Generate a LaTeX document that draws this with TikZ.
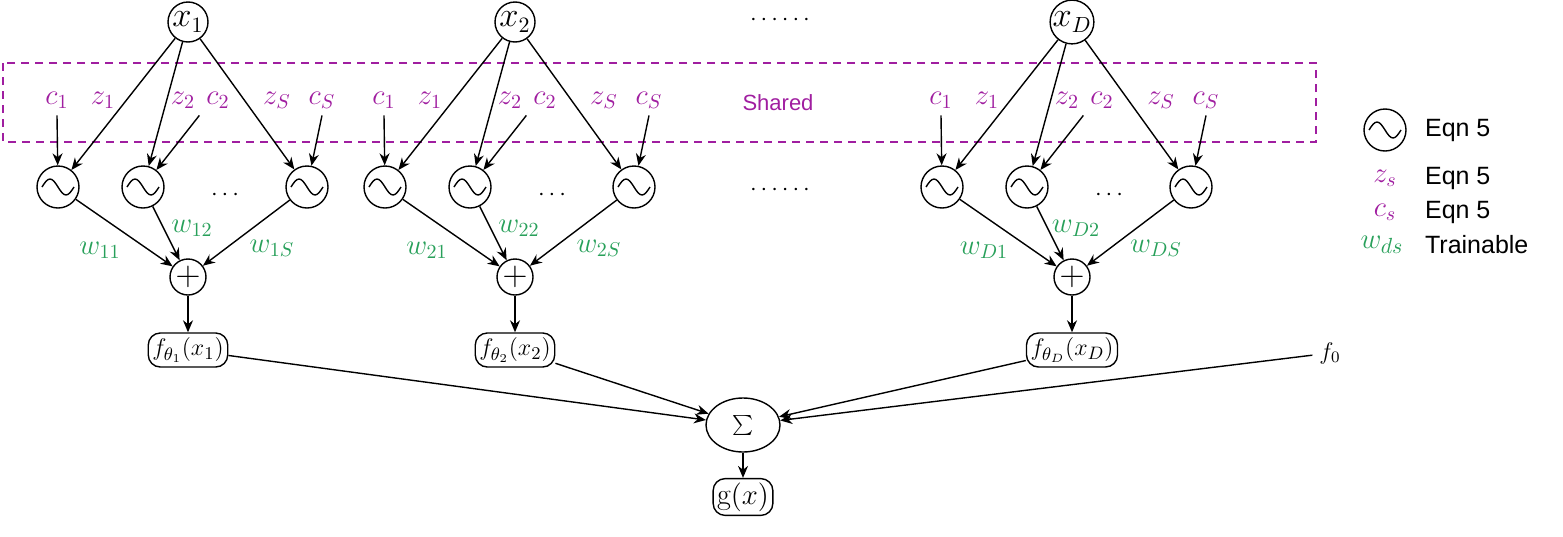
\documentclass[tikz,border=0pt]{standalone}
\usepackage{fontspec}
\newfontfamily\lsans{Liberation Sans}
\usetikzlibrary{arrows.meta,shapes.geometric}
\definecolor{mag}{RGB}{160,30,160}
\definecolor{grn}{RGB}{40,160,90}
\begin{document}
\begin{tikzpicture}[x=0.5pt,y=-0.5pt,
  every node/.style={font=\fontsize{12}{14}\selectfont},
  cnode/.style={circle,draw,line width=0.7pt,inner sep=0pt,minimum size=20pt},
  sine/.style={circle,draw,line width=0.7pt,inner sep=0pt,minimum size=21pt,
    path picture={\draw[line width=0.7pt] ([xshift=-8pt]path picture bounding box.center) sin ++(4pt,4pt) cos ++(4pt,-4pt) sin ++(4pt,-4pt) cos ++(4pt,4pt);}},
  plus/.style={circle,draw,line width=0.7pt,inner sep=0pt,minimum size=18pt,font=\fontsize{16}{16}\selectfont},
  fbox/.style={rounded corners=6pt,draw,line width=0.7pt,inner sep=2pt,minimum height=17pt,font=\fontsize{13}{15}\selectfont},
  arr/.style={-{Stealth[length=6pt,width=5pt]},line width=0.7pt},
  mlab/.style={text=mag,font=\fontsize{14}{15}\selectfont},
  wlab/.style={text=grn,font=\fontsize{14}{15}\selectfont}]
\useasboundingbox (0,0) rectangle (1563,536);
\draw[mag,line width=1.3pt,dash pattern=on 4pt off 3pt] (3,63) rectangle (1316,142);
\node[mag,font=\lsans\fontsize{11}{13}\selectfont] (shared) at (778,103) {Shared};
\node (dtop) at (780,20) {\large $\cdots\cdots$};
\node (dmid) at (780,190) {\large $\cdots\cdots$};
\foreach \o/\i/\d/\fl in {0/1/1/{f_{\theta_1}(x_1)},327/2/2/{f_{\theta_2}(x_2)},884/D/D/{f_{\theta_D}(x_D)}}{
  \begin{scope}[xshift=\o*0.5pt]
  \node[cnode,font=\fontsize{16}{16}\selectfont] (x\i) at (188,22) {$x_{\i}$};
  \node[sine] (s1\i) at (58,187) {};
  \node[sine] (s2\i) at (143,187) {};
  \node[sine] (s3\i) at (307,187) {};
  \node (dd\i) at (225,195) {\large $\cdots$};
  \node[plus] (p\i) at (188,277) {$+$};
  \node[fbox] (f\i) at (188,350) {$\fl$};
  \node[mlab] (c1\i) at (57,100) {$c_1$};
  \node[mlab] (z1\i) at (103,100) {$z_1$};
  \node[mlab] (z2\i) at (183,100) {$z_2$};
  \node[mlab] (c2\i) at (218,100) {$c_2$};
  \node[mlab] (zS\i) at (277,100) {$z_S$};
  \node[mlab] (cS\i) at (322,100) {$c_S$};
  \node[wlab] (w1\i) at (100,250) {$w_{\d1}$};
  \node[wlab] (w2\i) at (192,228) {$w_{\d2}$};
  \node[wlab] (w3\i) at (272,248) {$w_{\d S}$};
  \draw[arr] (x\i) -- (s1\i);
  \draw[arr] (x\i) -- (s2\i);
  \draw[arr] (x\i) -- (s3\i);
  \draw[arr] (c1\i.south) -- (s1\i);
  \draw[arr] (c2\i.south west) -- (s2\i);
  \draw[arr] (cS\i.south) -- (s3\i);
  \draw[arr] (s1\i) -- (p\i);
  \draw[arr] (s2\i) -- (p\i);
  \draw[arr] (s3\i) -- (p\i);
  \draw[arr] (p\i) -- (f\i);
  \end{scope}
}
\node[draw,ellipse,line width=0.7pt,minimum width=37pt,minimum height=27pt,inner sep=0pt] (sigma) at (743,425) {\Large $\sum$};
\node[fbox,font=\fontsize{15}{17}\selectfont] (g) at (743,497) {$\mathrm{g}(x)$};
\node (f0) at (1330,353) {$f_0$};
\draw[arr] (f1) -- (sigma);
\draw[arr] (f2) -- (sigma);
\draw[arr] (fD) -- (sigma);
\draw[arr] (f0) -- (sigma);
\draw[arr] (sigma) -- (g);
\node[sine] (lsine) at (1385,130) {};
\node[anchor=west,font=\lsans\fontsize{12.5}{14}\selectfont] (l1) at (1418,130) {Eqn 5};
\node[mlab] (lz) at (1385,178) {$z_s$};
\node[anchor=west,font=\lsans\fontsize{12.5}{14}\selectfont] (l2) at (1418,178) {Eqn 5};
\node[mlab] (lc) at (1385,212) {$c_s$};
\node[anchor=west,font=\lsans\fontsize{12.5}{14}\selectfont] (l3) at (1418,212) {Eqn 5};
\node[wlab,font=\fontsize{15}{15}\selectfont] (lw) at (1382,245) {$w_{ds}$};
\node[anchor=west,font=\lsans\fontsize{12.5}{14}\selectfont] (l4) at (1418,245) {Trainable};
\end{tikzpicture}
\end{document}
